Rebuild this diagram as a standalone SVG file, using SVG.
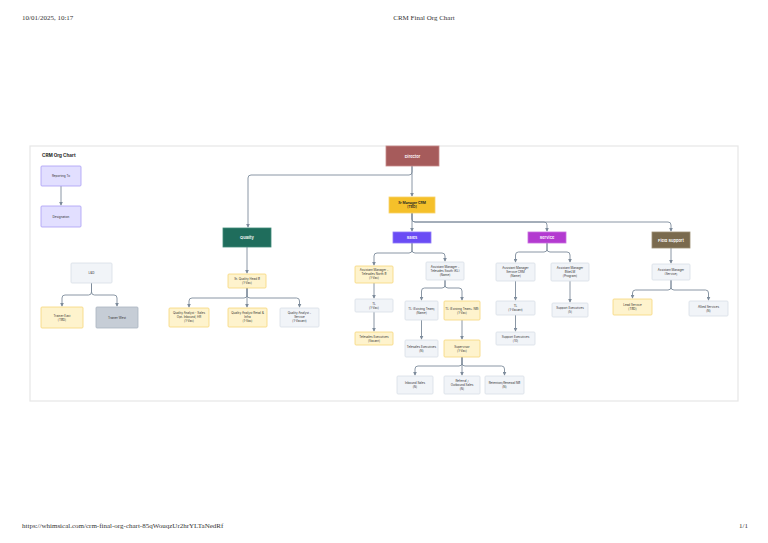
<svg xmlns="http://www.w3.org/2000/svg" width="768" height="543" viewBox="0 0 768 543">
<defs>
<style>
.hdr{font-family:"Liberation Serif",serif;font-size:7px;fill:#333}
.t{font-family:Inter,"Liberation Sans",sans-serif;font-size:3px;fill:#333;text-anchor:middle}
.tw{font-family:Inter,"Liberation Sans",sans-serif;font-size:4px;fill:#fff;text-anchor:middle;font-weight:600}
.tb{font-family:Inter,"Liberation Sans",sans-serif;font-size:3.4px;fill:#222;text-anchor:middle;font-weight:600}
.y{fill:#fef3cd;stroke:#f6d67a;stroke-width:0.8}
.g{fill:#f1f4f8;stroke:#d8dee6;stroke-width:0.8}
.gd{fill:#c6cdd6;stroke:#aab4c0;stroke-width:0.8}
.p{fill:#e2dfff;stroke:#a99cf5;stroke-width:0.8}
.c path{fill:none;stroke:#7d8b9b;stroke-width:0.9;marker-end:url(#a)}
</style>
<marker id="a" viewBox="0 0 6 6" refX="5" refY="3" markerWidth="4" markerHeight="4" orient="auto" markerUnits="userSpaceOnUse">
<path d="M0,0 L6,3 L0,6 z" fill="#7d8b9b"/>
</marker>
</defs>
<rect width="768" height="543" fill="#fff"/>
<text class="hdr" x="22" y="20">10/01/2025, 10:17</text>
<text class="hdr" x="424" y="20" text-anchor="middle">CRM Final Org Chart</text>
<text class="hdr" x="22" y="528">https://whimsical.com/crm-final-org-chart-85qWouqzUr2hrYLTaNedRf</text>
<text class="hdr" x="748" y="528" text-anchor="end">1/1</text>
<rect x="30" y="146" width="708" height="255" fill="#fff" stroke="#e6e6e6" stroke-width="1.2"/>
<text x="42" y="156.5" font-family="Inter,'Liberation Sans',sans-serif" font-size="4.6" font-weight="700" fill="#222">CRM Org Chart</text>
<g class="c">
<path d="M61,186 V205"/>
<path d="M412,166 V172 Q412,175 409,175 H251 Q248,175 248,178 V227"/>
<path d="M412,166 V196"/>
<path d="M412,213 V231"/>
<path d="M412,213 V219 Q412,222 415,222 H544 Q547,222 547,225 V231"/>
<path d="M412,213 V219 Q412,222 415,222 H668 Q671,222 671,225 V231"/>
<path d="M91.5,283 V292 Q91.5,295 88.5,295 H65 Q62,295 62,298 V306"/>
<path d="M91.5,283 V292 Q91.5,295 94.5,295 H114 Q117,295 117,298 V306"/>
<path d="M247,247 V273"/>
<path d="M247,288 V295 Q247,298 244,298 H192 Q189,298 189,301 V307"/>
<path d="M247,288 V307"/>
<path d="M247,288 V295 Q247,298 250,298 H296.5 Q299.5,298 299.5,301 V307"/>
<path d="M412,243 V250 Q412,253 409,253 H377 Q374,253 374,256 V265"/>
<path d="M412,243 V250 Q412,253 415,253 H442 Q445,253 445,256 V261"/>
<path d="M374,283 V298"/>
<path d="M374,312 V331"/>
<path d="M445,280 V285 Q445,288 442,288 H424.5 Q421.5,288 421.5,291 V300"/>
<path d="M445,280 V285 Q445,288 448,288 H459 Q462,288 462,291 V300"/>
<path d="M421.5,320 V339"/>
<path d="M462,320 V339"/>
<path d="M462,357 V363 Q462,366 459,366 H418 Q415,366 415,369 V375"/>
<path d="M462,357 V375"/>
<path d="M462,357 V363 Q462,366 465,366 H501.5 Q504.5,366 504.5,369 V375"/>
<path d="M547,243 V249 Q547,252 544,252 H518.5 Q515.5,252 515.5,255 V262"/>
<path d="M547,243 V249 Q547,252 550,252 H567 Q570,252 570,255 V262"/>
<path d="M515.5,281 V300"/>
<path d="M515.5,315 V331"/>
<path d="M570,281 V302"/>
<path d="M671,248 V263"/>
<path d="M671,280 V287 Q671,290 668,290 H635.5 Q632.5,290 632.5,293 V298"/>
<path d="M671,280 V287 Q671,290 674,290 H705.5 Q708.5,290 708.5,293 V300"/>
</g>
<g id="reporting-to"><rect class="p" x="41" y="166" width="40" height="20" rx="1"/><text class="t" x="61" y="177">Reporting To</text></g>
<g id="designation"><rect class="p" x="41" y="206" width="40" height="21" rx="1"/><text class="t" x="61" y="217.5">Designation</text></g>
<g id="ld"><rect class="g" x="71" y="263" width="41" height="20" rx="1"/><text class="t" x="91.5" y="274">L&amp;D</text></g>
<g id="trainer-east"><rect class="y" x="41" y="307" width="42" height="21" rx="1"/><text class="t" x="62" y="316.5">Trainer East</text><text class="t" x="62" y="320.5">[TBD]</text></g>
<g id="trainer-west"><rect class="gd" x="96" y="307" width="42" height="21" rx="1"/><text class="t" x="117" y="318.5">Trainer West</text></g>
<g id="director"><rect x="386" y="146" width="53" height="20" fill="#a65b5b" stroke="#c98a8a" stroke-width="0.8"/><text class="tw" x="412.5" y="157.5">Director</text></g>
<g id="sr-manager"><rect x="389" y="197" width="46" height="16" fill="#f5c02a" stroke="#f7d36a" stroke-width="0.8"/><text class="tb" x="412" y="204">Sr Manager CRM</text><text class="tb" x="412" y="208">[TBD]</text></g>
<g id="quality"><rect x="223" y="228" width="48" height="19" fill="#1f6d5c" stroke="#3f8a78" stroke-width="0.8"/><text class="tw" x="247" y="239">Quality</text></g>
<g id="sr-quality-head"><rect class="y" x="228" y="274" width="38" height="14" rx="1"/><text class="t" x="247" y="280">Sr. Quality Head B</text><text class="t" x="247" y="284">[1-Vac]</text></g>
<g id="qa-sales"><rect class="y" x="169" y="308" width="40" height="19" rx="1"/><text class="t" x="189" y="314">Quality Analyst - Sales</text><text class="t" x="189" y="318">Opt. Inbound, HR</text><text class="t" x="189" y="322">[1-Vac]</text></g>
<g id="qa-retail"><rect class="y" x="228" y="308" width="39" height="19" rx="1"/><text class="t" x="247.5" y="314">Quality Analyst Retail &amp;</text><text class="t" x="247.5" y="318">Infra</text><text class="t" x="247.5" y="322">[1-Vac]</text></g>
<g id="qa-service"><rect class="g" x="280" y="308" width="39" height="19" rx="1"/><text class="t" x="299.5" y="314">Quality Analyst -</text><text class="t" x="299.5" y="318">Service</text><text class="t" x="299.5" y="322">[1-Vacant]</text></g>
<g id="sales"><rect x="393" y="232" width="38" height="11" fill="#6a4cf5" stroke="#8f7af8" stroke-width="0.8"/><text class="tw" x="412" y="239" font-size="3.4">Sales</text></g>
<g id="am-north"><rect class="y" x="355" y="266" width="38" height="17" rx="1"/><text class="t" x="374" y="271">Assistant Manager -</text><text class="t" x="374" y="275">Telesales North B</text><text class="t" x="374" y="279">[1-Vac]</text></g>
<g id="am-south"><rect class="g" x="426" y="262" width="38" height="18" rx="1"/><text class="t" x="445" y="267.5">Assistant Manager -</text><text class="t" x="445" y="271.5">Telesales South (KL)</text><text class="t" x="445" y="275.5">[Name]</text></g>
<g id="tl-north"><rect class="g" x="355" y="299" width="38" height="13" rx="1"/><text class="t" x="374" y="304.5">TL</text><text class="t" x="374" y="308.5">[1-Vac]</text></g>
<g id="te-north"><rect class="y" x="355" y="332" width="38" height="13" rx="1"/><text class="t" x="374" y="337.5">Telesales Executives</text><text class="t" x="374" y="341.5">[Vacant]</text></g>
<g id="tl-existing"><rect class="g" x="405" y="301" width="33" height="19" rx="1"/><text class="t" x="421.5" y="309.5">TL (Existing Team)</text><text class="t" x="421.5" y="313.5">[Name]</text></g>
<g id="tl-new"><rect class="y" x="444" y="301" width="36" height="19" rx="1"/><text class="t" x="462" y="309.5">TL (Existing Team+ NB)</text><text class="t" x="462" y="313.5">[1-Vac]</text></g>
<g id="te-south"><rect class="g" x="405" y="340" width="33" height="17" rx="1"/><text class="t" x="421.5" y="347.5">Telesales Executives</text><text class="t" x="421.5" y="351.5">[N]</text></g>
<g id="supervisor"><rect class="y" x="444" y="340" width="36" height="17" rx="1"/><text class="t" x="462" y="347.5">Supervisor</text><text class="t" x="462" y="351.5">[1-Vac]</text></g>
<g id="inbound"><rect class="g" x="397" y="376" width="36" height="18" rx="1"/><text class="t" x="415" y="384">Inbound Sales</text><text class="t" x="415" y="388">[N]</text></g>
<g id="referral"><rect class="g" x="444" y="376" width="36" height="18" rx="1"/><text class="t" x="462" y="382">Referral /</text><text class="t" x="462" y="386">Outbound Sales</text><text class="t" x="462" y="390">[N]</text></g>
<g id="retention"><rect class="g" x="485" y="376" width="39" height="18" rx="1"/><text class="t" x="504.5" y="384">Retention/Renewal NB</text><text class="t" x="504.5" y="388">[N]</text></g>
<g id="service"><rect x="528" y="232" width="38" height="11" fill="#b33ad0" stroke="#c86ede" stroke-width="0.8"/><text class="tw" x="547" y="239" font-size="3.4">Service</text></g>
<g id="am-service"><rect class="g" x="496" y="263" width="39" height="18" rx="1"/><text class="t" x="515.5" y="268.5">Assistant Manager</text><text class="t" x="515.5" y="272.5">Service CRM</text><text class="t" x="515.5" y="276.5">[Name]</text></g>
<g id="am-bike"><rect class="g" x="551" y="263" width="38" height="18" rx="1"/><text class="t" x="570" y="268.5">Assistant Manager</text><text class="t" x="570" y="272.5">BikeLM</text><text class="t" x="570" y="276.5">[Program]</text></g>
<g id="tl-service"><rect class="g" x="496" y="301" width="39" height="14" rx="1"/><text class="t" x="515.5" y="307">TL</text><text class="t" x="515.5" y="311">[1-Vacant]</text></g>
<g id="se-10"><rect class="g" x="496" y="332" width="39" height="13" rx="1"/><text class="t" x="515.5" y="337.5">Support Executives</text><text class="t" x="515.5" y="341.5">[10]</text></g>
<g id="se-5"><rect class="g" x="552" y="303" width="36" height="14" rx="1"/><text class="t" x="570" y="309">Support Executives</text><text class="t" x="570" y="313">[5]</text></g>
<g id="field-support"><rect x="652" y="232" width="38" height="16" fill="#7a6a4e" stroke="#9c8e74" stroke-width="0.8"/><text class="tw" x="671" y="241.5" font-size="3.4">Field Support</text></g>
<g id="am-field"><rect class="g" x="652" y="264" width="38" height="16" rx="1"/><text class="t" x="671" y="271">Assistant Manager</text><text class="t" x="671" y="275">(Service)</text></g>
<g id="lead-service"><rect class="y" x="613" y="299" width="39" height="16" rx="1"/><text class="t" x="632.5" y="306">Lead Service</text><text class="t" x="632.5" y="310">[TBD]</text></g>
<g id="allied"><rect class="g" x="689" y="301" width="39" height="15" rx="1"/><text class="t" x="708.5" y="307.5">Allied Services</text><text class="t" x="708.5" y="311.5">[N]</text></g>
</svg>
